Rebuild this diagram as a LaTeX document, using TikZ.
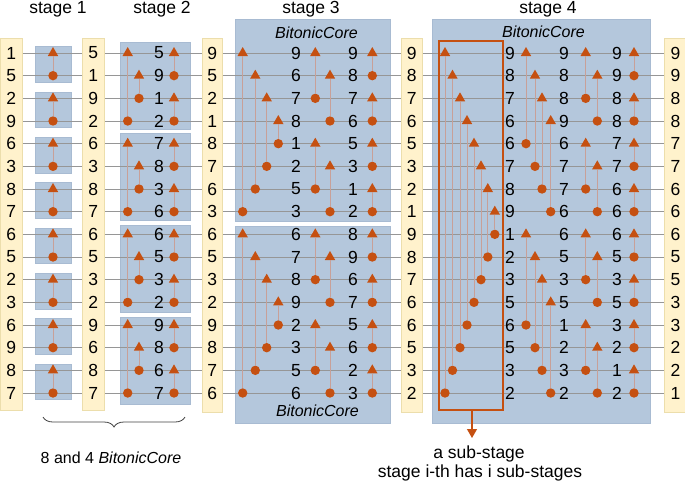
\documentclass[tikz,border=0pt]{standalone}
\usepackage{fontspec}
\setmainfont{Liberation Sans}
\usetikzlibrary{shapes.geometric,arrows.meta,decorations.pathreplacing}
\definecolor{mk}{RGB}{197,80,17}
\definecolor{ln}{RGB}{200,160,152}
\definecolor{bx}{RGB}{180,199,220}
\definecolor{bxd}{RGB}{168,187,210}
\definecolor{yl}{RGB}{255,242,204}
\definecolor{yld}{RGB}{236,222,172}
\definecolor{gl}{RGB}{150,150,150}
\newcommand\RY[1]{53+(#1-1)*22.667}
\newcommand\cmpr[4]{%
  \node[tri] (#1t) at (#2,{\RY{#3}}) {};
  \node[dot] (#1b) at (#2,{\RY{#4}}) {};
  \draw[cline] (#1t) -- (#1b);}
\newcommand\numcol[3]{\foreach \v [count=\i] in {#3} {\node[num] (#1\i) at (#2,{\RY{\i}}) {\v};}}
\begin{document}
\begin{tikzpicture}[x=1pt,y=-1pt,
  tri/.style={regular polygon, regular polygon sides=3, fill=mk, inner sep=0pt, minimum size=12pt},
  dot/.style={circle, fill=mk, inner sep=0pt, minimum size=9.4pt},
  cline/.style={draw=ln, line width=0.7pt},
  core/.style={fill=bx, draw=bxd, line width=0.6pt},
  ycol/.style={fill=yl, draw=yld, line width=0.7pt},
  hline/.style={draw=gl, line width=0.6pt},
  num/.style={font=\fontsize{17.5}{17}\selectfont, inner sep=0pt},
  lab/.style={font=\fontsize{17.5}{20}\selectfont, anchor=base, inner sep=0pt},
  core lab/.style={font=\fontsize{16}{18}\selectfont\itshape, anchor=base, inner sep=0pt},
  sub/.style={draw=mk, line width=1.2pt},
  note/.style={font=\fontsize{17.5}{20}\selectfont, anchor=base, inner sep=0pt}]
\useasboundingbox (0,0) rectangle (685,482);
% blue core boxes
\foreach \k in {1,...,8} {
  \draw[core] (35,{\RY{2*\k-1}-6.5}) rectangle (71,{\RY{2*\k}+6.5});}
\foreach \t in {42,133.7,225.3,317} {
  \draw[core] (120,\t) rectangle (190,\t+87);}
\draw[core] (235,19) rectangle (390,221);
\draw[core] (235,226) rectangle (390,423);
\draw[core] (432,19) rectangle (650,423);
% horizontal wires
\foreach \i in {1,...,16} {
  \coordinate (L\i) at (0,{\RY{\i}});
  \coordinate (R\i) at (685,{\RY{\i}});
  \draw[hline] (L\i) -- (R\i);}
% yellow value columns
\draw[ycol] (0.4,38) rectangle (22.5,410);
\draw[ycol] (82.3,38) rectangle (104.3,410);
\draw[ycol] (202.3,38) rectangle (222.3,412);
\draw[ycol] (401,38) rectangle (422.3,412);
\draw[ycol] (664.3,38) rectangle (688,412);
\numcol{A}{11.3}{1,5,2,9,6,3,8,7,6,5,2,3,6,9,8,7}
\numcol{B}{93.3}{5,1,9,2,6,3,8,7,6,5,3,2,9,6,8,7}
\numcol{C}{212.3}{9,5,2,1,8,7,6,3,6,5,3,2,9,8,7,6}
\numcol{D}{411.7}{9,8,7,6,5,3,2,1,9,8,7,6,6,5,3,2}
\numcol{E}{675.5}{9,9,8,8,7,7,6,6,6,5,5,3,3,2,2,1}
% stage labels
\node[lab] (st1) at (58,13) {stage 1};
\node[lab] (st2) at (162,13) {stage 2};
\node[lab] (st3) at (311,13) {stage 3};
\node[lab] (st4) at (548,13) {stage 4};
\node[core lab] (bc3a) at (316.5,38.5) {BitonicCore};
\node[core lab] (bc3b) at (317.5,416.5) {BitonicCore};
\node[core lab] (bc4) at (543.5,37) {BitonicCore};
% stage 1
\foreach \k in {1,...,8} {
  \pgfmathtruncatemacro\ta{2*\k-1}\pgfmathtruncatemacro\tb{2*\k}
  \cmpr{sa\k}{53}{\ta}{\tb}}
% stage 2
\foreach \g in {0,...,3} {
  \pgfmathtruncatemacro\ra{4*\g+1}\pgfmathtruncatemacro\rb{4*\g+2}
  \pgfmathtruncatemacro\rc{4*\g+3}\pgfmathtruncatemacro\rd{4*\g+4}
  \cmpr{sb\g p}{127.7}{\ra}{\rd}
  \cmpr{sb\g q}{139}{\rb}{\rc}
  \cmpr{sb\g r}{174}{\ra}{\rb}
  \cmpr{sb\g s}{174}{\rc}{\rd}}
\numcol{M}{159}{5,9,1,2,7,8,3,6,6,5,3,2,9,8,6,7}
% stage 3
\foreach \h in {0,1} {
  \foreach \j/\xx in {1/242.7,2/255.3,3/266.7,4/278.3} {
    \pgfmathtruncatemacro\ra{8*\h+\j}\pgfmathtruncatemacro\rb{8*\h+9-\j}
    \cmpr{sc\h a\j}{\xx}{\ra}{\rb}}
  \foreach \j/\xx in {1/315.3,2/330,5/315.3,6/330} {
    \pgfmathtruncatemacro\ra{8*\h+\j}\pgfmathtruncatemacro\rb{8*\h+\j+2}
    \cmpr{sc\h b\j}{\xx}{\ra}{\rb}}
  \foreach \j in {1,3,5,7} {
    \pgfmathtruncatemacro\ra{8*\h+\j}\pgfmathtruncatemacro\rb{8*\h+\j+1}
    \cmpr{sc\h c\j}{372.3}{\ra}{\rb}}}
\numcol{N}{296}{9,6,7,8,1,2,5,3,6,7,8,9,2,3,5,6}
\numcol{P}{353}{9,8,7,6,5,3,1,2,8,9,6,7,5,6,2,3}
% stage 4
\foreach \j/\xx in {1/445,2/452.5,3/460,4/467,5/474,6/481,7/487.8,8/494.8} {
  \pgfmathtruncatemacro\rb{17-\j}
  \cmpr{sd a\j}{\xx}{\j}{\rb}}
\foreach \h in {0,1} {
  \foreach \j/\xx in {1/526,2/535,3/542,4/550.7} {
    \pgfmathtruncatemacro\ra{8*\h+\j}\pgfmathtruncatemacro\rb{8*\h+\j+4}
    \cmpr{sd\h b\j}{\xx}{\ra}{\rb}}}
\foreach \q in {0,...,3} {
  \pgfmathtruncatemacro\ra{4*\q+1}\pgfmathtruncatemacro\rb{4*\q+3}
  \pgfmathtruncatemacro\rc{4*\q+2}\pgfmathtruncatemacro\rd{4*\q+4}
  \cmpr{sd\q c}{585.7}{\ra}{\rb}
  \cmpr{sd\q d}{597.3}{\rc}{\rd}}
\foreach \m in {1,...,8} {
  \pgfmathtruncatemacro\ra{2*\m-1}\pgfmathtruncatemacro\rb{2*\m}
  \cmpr{sd\m e}{634}{\ra}{\rb}}
\numcol{Q}{510}{9,8,7,6,6,7,8,9,1,2,3,5,6,5,3,2}
\numcol{S}{564}{9,8,8,9,6,7,7,6,6,5,3,5,1,2,3,2}
\numcol{T}{617}{9,9,8,8,7,7,6,6,6,5,3,5,3,2,1,2}
% sub-stage highlight
\node[sub, inner sep=0pt, minimum width=64pt, minimum height=369pt] (subst) at (471,225.5) {};
\coordinate (subtip) at (472,438);
\draw[draw=mk, line width=1.2pt, -{Triangle[width=10pt,length=9pt]}] (subst.south -| subtip) -- (subtip);
\node[note] (n1) at (479,458) {a sub-stage};
\node[note] (n2) at (480,477) {stage i-th has i sub-stages};
% brace
\coordinate (brl) at (43,417);
\coordinate (brr) at (185,417);
\draw[draw=black!75, line width=0.8pt, decorate, decoration={brace, mirror, amplitude=10pt}] (brl) -- (brr);
\node[font=\fontsize{16}{18}\selectfont, anchor=base, inner sep=0pt] (bl) at (111,463) {8 and 4 \textit{BitonicCore}};
\end{tikzpicture}
\end{document}
